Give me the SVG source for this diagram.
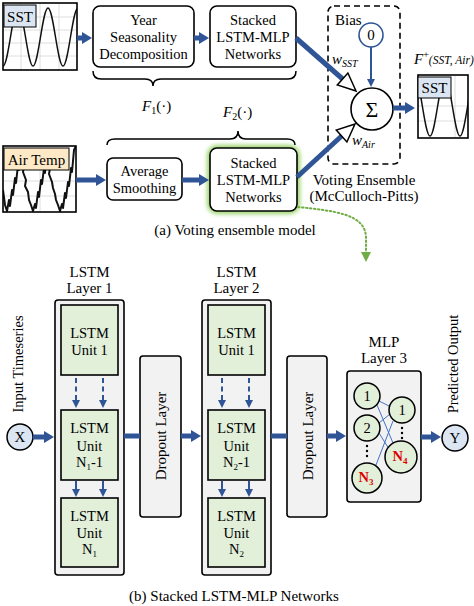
<svg xmlns="http://www.w3.org/2000/svg" width="474" height="606" viewBox="0 0 474 606">
<style>
text{font-family:"Liberation Serif","Times New Roman",serif;fill:#000}
.t{font-size:14.5px;text-anchor:middle}
.c{font-size:15px;text-anchor:middle}
.it{font-style:italic}
.box{fill:#fff;stroke:#000;stroke-width:1.6}
.gray{fill:#f2f2f2;stroke:#000;stroke-width:1.6}
.unit{fill:#e2efd9;stroke:#000;stroke-width:1.6}
.node{fill:#e2efd9;stroke:#000;stroke-width:1.5}
.io{fill:#dce6f2;stroke:#000;stroke-width:1.5}
.thick{stroke:#2f5597;stroke-width:5;fill:none}
.thin{stroke:#2f5597;stroke-width:2;fill:none}
.dash{stroke:#2f5597;stroke-width:2;fill:none;stroke-dasharray:5,3.5}
.grid{stroke:#d6d6d6;stroke-width:0.8}
.curve{fill:none;stroke:#111;stroke-width:1.5}
.tri{fill:#fff;stroke:#000;stroke-width:1.5}
.mlp{stroke:#4472c4;stroke-width:1}
.red{fill:#e00000;font-weight:bold}
</style>
<defs>
<marker id="ah" viewBox="0 0 10 12" refX="1" refY="6" markerWidth="10" markerHeight="12" markerUnits="userSpaceOnUse" orient="auto"><path d="M0,0 L10,6 L0,12 z" fill="#2f5597"/></marker>
<marker id="sh" viewBox="0 0 8 8" refX="1" refY="4" markerWidth="8" markerHeight="8" markerUnits="userSpaceOnUse" orient="auto"><path d="M0,0 L8,4 L0,8 z" fill="#2f5597"/></marker>
<marker id="gh" viewBox="0 0 10 10" refX="1" refY="5" markerWidth="10" markerHeight="10" markerUnits="userSpaceOnUse" orient="auto"><path d="M0,0 L10,5 L0,10 z" fill="#70ad47"/></marker>
<filter id="glow" x="-20%" y="-20%" width="140%" height="140%"><feGaussianBlur stdDeviation="2.2"/></filter>
<clipPath id="c1"><rect x="3" y="3" width="74" height="67"/></clipPath>
<clipPath id="c2"><rect x="3" y="146" width="73" height="66"/></clipPath>
<clipPath id="c3"><rect x="418" y="75" width="50" height="63"/></clipPath>
</defs>

<!-- SST input chart -->
<g id="sst-chart">
<rect x="3" y="3" width="74" height="67" fill="#fff"/>
<g class="grid"><line x1="3" y1="17" x2="77" y2="17"/><line x1="3" y1="30" x2="77" y2="30"/><line x1="3" y1="43" x2="77" y2="43"/><line x1="3" y1="56" x2="77" y2="56"/><line x1="21" y1="3" x2="21" y2="70"/><line x1="40" y1="3" x2="40" y2="70"/><line x1="59" y1="3" x2="59" y2="70"/></g>
<path class="curve" clip-path="url(#c1)" d="M3,66 c2.71,0 5.05,-14.14 7.5,-29 c2.45,-14.86 4.79,-29 7.5,-29 c2.71,0 5.05,14.14 7.5,29 c2.45,14.86 4.79,29 7.5,29 c2.71,0 5.05,-14.14 7.5,-29 c2.45,-14.86 4.79,-29 7.5,-29 c2.71,0 5.05,14.14 7.5,29 c2.45,14.86 4.79,29 7.5,29 c2.71,0 5.05,-14.14 7.5,-29 c2.45,-14.86 4.79,-29 7.5,-29"/>
<rect x="3" y="3" width="74" height="67" fill="none" stroke="#000" stroke-width="1.6"/>
<rect x="4" y="5" width="32" height="22" fill="#dce6f2" stroke="#000" stroke-width="1"/>
<text class="c" x="20" y="21.5">SST</text>
</g>

<!-- Air temp input chart -->
<g id="air-chart">
<rect x="3" y="146" width="73" height="66" fill="#fff"/>
<g class="grid"><line x1="3" y1="181" x2="76" y2="181"/><line x1="3" y1="196" x2="76" y2="196"/><line x1="40" y1="146" x2="40" y2="212"/></g>
<polyline clip-path="url(#c2)" fill="none" stroke="#111" stroke-width="2" stroke-linejoin="round" points="3,190 5,205 7,211 9,200 10,206 12,190 13,195 15,178 16,183 18,165 19,170 21,150 22,158 24,165 23,172 26,180 25,186 28,192 29,200 31,205 33,211 35,204 36,208 38,192 39,197 41,180 42,184 44,168 45,173 47,152 48,160 50,168 49,174 52,182 53,188 55,194 56,200 58,205 60,211 62,204 63,208 65,193 66,198 68,182 69,186 71,168 72,172 74,150 76,146"/>
<rect x="3" y="146" width="73" height="66" fill="none" stroke="#000" stroke-width="1.6"/>
<rect x="4" y="148" width="65" height="22" fill="#fde9c6" stroke="#000" stroke-width="1"/>
<text class="c" x="36.5" y="164.5">Air Temp</text>
</g>

<!-- Output chart -->
<g id="out-chart">
<rect x="418" y="75" width="50" height="63" fill="#fff"/>
<g class="grid"><line x1="418" y1="106" x2="468" y2="106"/><line x1="418" y1="121" x2="468" y2="121"/><line x1="455" y1="75" x2="455" y2="138"/></g>
<path class="curve" clip-path="url(#c3)" d="M400,136 c2.71,0 5.05,-14.14 7.5,-29 c2.45,-14.86 4.79,-29 7.5,-29 c2.71,0 5.05,14.14 7.5,29 c2.45,14.86 4.79,29 7.5,29 c2.71,0 5.05,-14.14 7.5,-29 c2.45,-14.86 4.79,-29 7.5,-29 c2.71,0 5.05,14.14 7.5,29 c2.45,14.86 4.79,29 7.5,29 c2.71,0 5.05,-14.14 7.5,-29 c2.45,-14.86 4.79,-29 7.5,-29"/>
<rect x="418" y="75" width="50" height="63" fill="none" stroke="#000" stroke-width="1.6"/>
<rect x="418" y="77" width="33" height="21" fill="#dce6f2" stroke="#000" stroke-width="1"/>
<text class="c" x="434.5" y="93">SST</text>
</g>
<text x="414" y="64"><tspan class="it" font-size="15">F</tspan><tspan font-size="10" dy="-6">+</tspan><tspan class="it" font-size="11.5" dy="6">(SST, Air)</tspan></text>

<!-- Top pipeline nodes -->
<g id="year-decomp">
<rect class="box" x="93" y="6" width="101" height="61" rx="7"/>
<text class="t" x="143.5" y="25">Year</text>
<text class="t" x="143.5" y="42">Seasonality</text>
<text class="t" x="143.5" y="59">Decomposition</text>
</g>
<g id="stacked-1">
<rect class="box" x="210" y="6" width="86" height="61" rx="7"/>
<text class="t" x="253" y="25">Stacked</text>
<text class="t" x="253" y="42">LSTM-MLP</text>
<text class="t" x="253" y="59">Networks</text>
</g>
<g id="avg-smooth">
<rect class="box" x="107" y="158" width="75" height="42" rx="6"/>
<text class="t" x="144.5" y="176">Average</text>
<text class="t" x="144.5" y="193">Smoothing</text>
</g>
<g id="stacked-2">
<rect x="210" y="148" width="87" height="63" rx="7" fill="none" stroke="#9ad46a" stroke-width="6" filter="url(#glow)"/>
<rect class="box" x="210" y="148" width="87" height="63" rx="7"/>
<text class="t" x="253.5" y="168">Stacked</text>
<text class="t" x="253.5" y="185">LSTM-MLP</text>
<text class="t" x="253.5" y="202">Networks</text>
</g>

<!-- Braces and function labels -->
<g id="braces" fill="none" stroke="#000" stroke-width="1.5">
<path d="M93,71 Q93,79 101,79 L145,79 Q153,79 153,86 Q153,79 161,79 L288,79 Q296,79 296,71"/>
<path d="M107,145 Q107,139 115,139 L230,139 Q238,139 238,131 Q238,139 246,139 L287,139 Q295,139 295,145"/>
</g>
<text x="142" y="111"><tspan class="it" font-size="15">F</tspan><tspan font-size="10" dy="3">1</tspan><tspan font-size="15" dy="-3">(·)</tspan></text>
<text x="223" y="117"><tspan class="it" font-size="15">F</tspan><tspan font-size="10" dy="3">2</tspan><tspan font-size="15" dy="-3">(·)</tspan></text>

<!-- Voting ensemble -->
<g id="voting-ensemble">
<rect x="328" y="6" width="72" height="158" rx="6" fill="none" stroke="#000" stroke-width="1.6" stroke-dasharray="6,4"/>
<text x="335" y="25" font-size="15">Bias</text>
<text class="it" x="332" y="64"><tspan font-size="15">w</tspan><tspan font-size="10" dy="3">SST</tspan></text>
<text class="it" x="352" y="145"><tspan font-size="15">w</tspan><tspan font-size="10" dy="3">Air</tspan></text>
<text class="c" x="364" y="185">Voting Ensemble</text>
<text class="c" x="364" y="201">(McCulloch-Pitts)</text>
</g>
<g id="bias-node">
<circle cx="371" cy="35" r="12" fill="#fff" stroke="#2f5597" stroke-width="1.6"/>
<text class="c" x="371" y="40">0</text>
</g>
<g id="sum-node">
<circle cx="372" cy="109" r="21" fill="#fff" stroke="#000" stroke-width="1.6"/>
<text x="372" y="117" font-size="22" text-anchor="middle">Σ</text>
</g>

<!-- Bottom section nodes -->
<text class="c" x="89.5" y="277">LSTM</text>
<text class="c" x="89.5" y="293">Layer 1</text>
<text class="c" x="236.5" y="277">LSTM</text>
<text class="c" x="236.5" y="293">Layer 2</text>
<text class="c" x="384" y="347">MLP</text>
<text class="c" x="384" y="363">Layer 3</text>
<text font-size="14.5" text-anchor="middle" transform="translate(23,364) rotate(-90)">Input Timeseries</text>
<text font-size="14.5" text-anchor="middle" transform="translate(458,364) rotate(-90)">Predicted Output</text>

<g id="input-x">
<circle class="io" cx="20" cy="437" r="13"/>
<text class="c" x="20" y="442">X</text>
</g>
<g id="output-y">
<circle class="io" cx="455" cy="438" r="13"/>
<text class="c" x="455" y="443">Y</text>
</g>

<g id="lstm-layer-1">
<rect class="gray" x="55" y="300" width="69" height="275" rx="3"/>
<rect class="unit" x="61" y="305" width="57" height="70"/>
<text class="t" x="89.5" y="338">LSTM</text>
<text class="t" x="89.5" y="355">Unit 1</text>
<rect class="unit" x="61" y="410" width="57" height="70"/>
<text class="t" x="89.5" y="433">LSTM</text>
<text class="t" x="89.5" y="451">Unit</text>
<text class="t" x="89.5" y="467">N<tspan font-size="9" dy="3">1</tspan><tspan dy="-3">-1</tspan></text>
<rect class="unit" x="61" y="498" width="57" height="69"/>
<text class="t" x="89.5" y="521">LSTM</text>
<text class="t" x="89.5" y="538">Unit</text>
<text class="t" x="89.5" y="554">N<tspan font-size="9" dy="3">1</tspan></text>
</g>
<g id="lstm-layer-2">
<rect class="gray" x="202" y="300" width="69" height="275" rx="3"/>
<rect class="unit" x="208" y="305" width="57" height="70"/>
<text class="t" x="236.5" y="338">LSTM</text>
<text class="t" x="236.5" y="355">Unit 1</text>
<rect class="unit" x="208" y="410" width="57" height="70"/>
<text class="t" x="236.5" y="433">LSTM</text>
<text class="t" x="236.5" y="451">Unit</text>
<text class="t" x="236.5" y="467">N<tspan font-size="9" dy="3">2</tspan><tspan dy="-3">-1</tspan></text>
<rect class="unit" x="208" y="498" width="57" height="69"/>
<text class="t" x="236.5" y="521">LSTM</text>
<text class="t" x="236.5" y="538">Unit</text>
<text class="t" x="236.5" y="554">N<tspan font-size="9" dy="3">2</tspan></text>
</g>
<g id="dropout-1">
<rect class="gray" x="140" y="356" width="41" height="161" rx="3"/>
<text font-size="15" text-anchor="middle" transform="translate(166,436) rotate(-90)">Dropout Layer</text>
</g>
<g id="dropout-2">
<rect class="gray" x="287" y="356" width="40" height="161" rx="3"/>
<text font-size="15" text-anchor="middle" transform="translate(312.5,436) rotate(-90)">Dropout Layer</text>
</g>
<g id="mlp-layer-3">
<rect class="gray" x="347" y="371" width="74" height="131" rx="3"/>
<g class="mlp">
<line x1="379" y1="401" x2="389" y2="406"/>
<line x1="377" y1="405" x2="393" y2="443"/>
<line x1="379" y1="423" x2="390" y2="414"/>
<line x1="379" y1="433" x2="389" y2="449"/>
<line x1="376" y1="465" x2="393" y2="421"/>
</g>
<circle class="node" cx="367" cy="396" r="13"/>
<text class="t" x="367" y="401">1</text>
<circle class="node" cx="367" cy="428" r="13"/>
<text class="t" x="367" y="433">2</text>
<circle class="node" cx="367" cy="478" r="15"/>
<text class="t red" x="366" y="482">N<tspan font-size="9" dy="3">3</tspan></text>
<circle class="node" cx="402" cy="410" r="13"/>
<text class="t" x="402" y="415">1</text>
<circle class="node" cx="401" cy="457" r="16"/>
<text class="t red" x="400" y="461">N<tspan font-size="9" dy="3">4</tspan></text>
<g fill="#000"><circle cx="367" cy="446" r="1.2"/><circle cx="367" cy="451" r="1.2"/><circle cx="367" cy="456" r="1.2"/><circle cx="402" cy="428" r="1.2"/><circle cx="402" cy="433" r="1.2"/><circle cx="402" cy="438" r="1.2"/></g>
</g>

<!-- Connectors -->
<g id="connectors">
<line class="thick" x1="77" y1="38" x2="83" y2="38" marker-end="url(#ah)"/>
<line class="thick" x1="194" y1="38" x2="200" y2="38" marker-end="url(#ah)"/>
<line class="thick" x1="76" y1="180" x2="97" y2="180" marker-end="url(#ah)"/>
<line class="thick" x1="182" y1="180" x2="200" y2="180" marker-end="url(#ah)"/>
<line class="thick" x1="296" y1="38" x2="342.6" y2="79"/>
<polygon class="tri" points="356,91 337.3,85 347.9,73"/>
<line class="thick" x1="297" y1="177" x2="341.6" y2="136"/>
<polygon class="tri" points="355,124 346.9,142 336.3,130"/>
<line class="thin" x1="371" y1="47" x2="371" y2="80" marker-end="url(#sh)"/>
<line class="thick" x1="393" y1="108" x2="406" y2="108" marker-end="url(#ah)"/>
<path d="M298,207 C335,211 366,214 366,238 L366,253" fill="none" stroke="#70ad47" stroke-width="2" stroke-dasharray="1.5,2.5" stroke-linecap="round" marker-end="url(#gh)"/>
<line class="thick" x1="33" y1="437" x2="45" y2="437" marker-end="url(#ah)"/>
<line class="thick" x1="124" y1="436" x2="140" y2="436"/>
<line class="thick" x1="181" y1="436" x2="192" y2="436" marker-end="url(#ah)"/>
<line class="thick" x1="271" y1="436" x2="287" y2="436"/>
<line class="thick" x1="327" y1="436" x2="337" y2="436" marker-end="url(#ah)"/>
<line class="thick" x1="421" y1="437" x2="432" y2="437" marker-end="url(#ah)"/>
<line class="dash" x1="76" y1="378" x2="76" y2="401" marker-end="url(#sh)"/>
<line class="dash" x1="103" y1="378" x2="103" y2="401" marker-end="url(#sh)"/>
<line class="thin" x1="76" y1="481" x2="76" y2="490" marker-end="url(#sh)"/>
<line class="thin" x1="103" y1="481" x2="103" y2="490" marker-end="url(#sh)"/>
<line class="dash" x1="222" y1="378" x2="222" y2="401" marker-end="url(#sh)"/>
<line class="dash" x1="249" y1="378" x2="249" y2="401" marker-end="url(#sh)"/>
<line class="thin" x1="222" y1="481" x2="222" y2="490" marker-end="url(#sh)"/>
<line class="thin" x1="249" y1="481" x2="249" y2="490" marker-end="url(#sh)"/>
</g>

<text class="c" x="235" y="235">(a) Voting ensemble model</text>
<text class="c" x="234" y="601">(b) Stacked LSTM-MLP Networks</text>
</svg>
